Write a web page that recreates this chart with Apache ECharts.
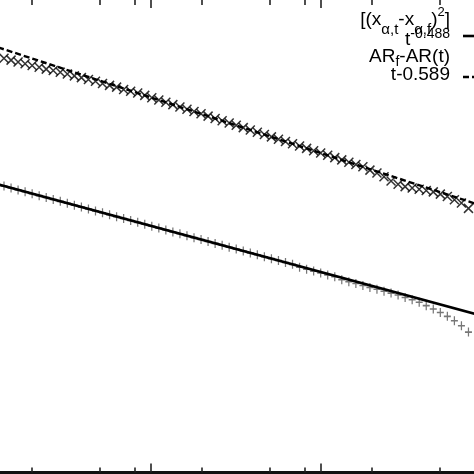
<!DOCTYPE html>
<html>
<head>
<meta charset="utf-8">
<script src="https://cdn.jsdelivr.net/npm/echarts@6/dist/echarts.min.js"></script>
<style>
html,body{margin:0;padding:0;background:#fff;}
#chart{width:474px;height:474px;}
</style>
</head>
<body>
<div id="chart"></div>
<script>
// time values (log-spaced samples)
const tValues = [13.66, 15.03, 16.53, 18.18, 20.0, 22.0, 24.2, 26.62, 29.28, 32.21,
  35.43, 38.97, 42.87, 47.16, 51.87, 57.06, 62.77, 69.04, 75.95, 83.54,
  91.9, 101.1, 111.2, 122.3, 134.5, 148.0, 162.8, 179.1, 197.0, 216.7,
  238.4, 262.2, 288.4, 317.3, 349.0, 383.9, 422.3, 464.5, 511.0, 562.1,
  618.3, 680.1, 748.1, 822.9, 905.2, 995.7, 1095, 1205, 1325, 1458,
  1604, 1764, 1940, 2134, 2348, 2583, 2841, 3125, 3438, 3782,
  4160, 4576, 5034, 5537, 6091, 6700, 7370];
// [(x_{a,t}-x_{a,f})^2]  (+ markers)
const msdValues = [0.01073, 0.01024, 0.009779, 0.009335, 0.008911, 0.008505, 0.008119, 0.007750, 0.007397, 0.007061,
  0.006740, 0.006434, 0.006142, 0.005862, 0.005596, 0.005342, 0.005099, 0.004867, 0.004646, 0.004435,
  0.004233, 0.004041, 0.003857, 0.003682, 0.003514, 0.003355, 0.003202, 0.003057, 0.002918, 0.002785,
  0.002658, 0.002538, 0.002422, 0.002312, 0.002207, 0.002107, 0.002011, 0.001920, 0.001832, 0.001749,
  0.001670, 0.001594, 0.001485, 0.001417, 0.001353, 0.001291, 0.001233, 0.001177, 0.001096, 0.001046,
  0.0009987, 0.0009533, 0.0009099, 0.0008686, 0.0008291, 0.0007914, 0.0007554, 0.0007123, 0.0006718, 0.0006335,
  0.0005830, 0.0005365, 0.0004938, 0.0004489, 0.0004032, 0.0003577, 0.0003060];
// AR_f - AR(t)  (x markers)
const arValues = [0.2415, 0.2311, 0.2212, 0.2117, 0.2026, 0.1939, 0.1855, 0.1797, 0.1720, 0.1646,
  0.1575, 0.1508, 0.1443, 0.1381, 0.1305, 0.1249, 0.1196, 0.1130, 0.1082, 0.1035,
  0.09786, 0.09252, 0.08747, 0.08269, 0.07817, 0.07390, 0.06987, 0.06606, 0.06245, 0.05904,
  0.05582, 0.05277, 0.04989, 0.04717, 0.04459, 0.04216, 0.03986, 0.03768, 0.03563, 0.03368,
  0.03184, 0.03010, 0.02846, 0.02691, 0.02544, 0.02405, 0.02274, 0.02149, 0.02032, 0.01921,
  0.01816, 0.01717, 0.01584, 0.01480, 0.01349, 0.01215, 0.01121, 0.01059, 0.01026, 0.009942,
  0.009630, 0.009330, 0.008820, 0.008339, 0.007694, 0.007098, 0.006238];
// power-law fits (endpoints)
const fitT = [10, 10000];
const fitMsd = [0.01252, 0.0004294];   // t^-0.488
const fitAr = [0.3613, 0.00618];      // t^-0.589
// axes
const xRange = [12.94, 7943];
const yRange = [1e-5, 1];
const majorTicks = [100, 1000];
const minorTicks = [20, 50, 80, 200, 500, 800, 2000, 5000];

const L = Math.log10;
const pairs = (xs, ys) => xs.map((x, i) => [L(x), L(ys[i])]);

const chart = echarts.init(document.getElementById('chart'), null, {renderer: 'canvas'});
const baseX = {
  type: 'value', min: L(xRange[0]), max: L(xRange[1]),
  axisLabel: {show: false}, splitLine: {show: false}, axisLine: {show: false}
};
function tickAxis(pos, vals, len, lineShow) {
  return Object.assign({}, baseX, {
    position: pos,
    axisLine: {show: lineShow, onZero: false, lineStyle: {color: '#111', width: 3}},
    axisTick: {show: true, inside: true, length: len, customValues: vals.map(L), lineStyle: {color: '#222', width: 1.6}}
  });
}
const font = '"Liberation Sans", Arial, sans-serif';
const richStyles = {
  m: {fontSize: 19, fontFamily: font, color: '#111'},
  sb: {fontSize: 15, fontFamily: font, color: '#111', verticalAlign: 'bottom', lineHeight: 26},
  sp: {fontSize: 13, fontFamily: font, color: '#111', verticalAlign: 'top', lineHeight: 13, padding: [4, 0, 0, 0]},
  sp2: {fontSize: 14, fontFamily: font, color: '#111', verticalAlign: 'top', lineHeight: 12}
};
function rich(over) {
  const r = {};
  for (const k in richStyles) r[k] = Object.assign({}, richStyles[k]);
  for (const k in over) Object.assign(r[k], over[k]);
  return r;
}

chart.setOption({
  animation: false,
  backgroundColor: '#fff',
  grid: {left: 0, right: 0, top: 0, bottom: 1.5, containLabel: false},
  xAxis: [
    tickAxis('bottom', minorTicks, 5, true),
    tickAxis('bottom', majorTicks, 9, false),
    tickAxis('top', minorTicks, 5, false),
    tickAxis('top', majorTicks, 8, false)
  ],
  yAxis: {type: 'value', min: L(yRange[0]), max: L(yRange[1]), show: false},
  series: [
    {
      type: 'scatter', name: 'msd', data: pairs(tValues, msdValues),
      symbol: 'path://M4,0L4,8M0,4L8,4', symbolSize: [7, 9],
      itemStyle: {color: 'none', borderColor: '#555', borderWidth: 1.4}, z: 2
    },
    {
      type: 'scatter', name: 'ar', data: pairs(tValues, arValues),
      symbol: 'path://M0,0L8,8M8,0L0,8', symbolSize: 9,
      itemStyle: {color: 'none', borderColor: '#000', borderWidth: 1.5}, z: 2
    },
    {
      type: 'line', name: 'fitMsd', data: pairs(fitT, fitMsd), showSymbol: false,
      lineStyle: {color: '#000', width: 2.6}, z: 3
    },
    {
      type: 'line', name: 'fitAr', data: pairs(fitT, fitAr), showSymbol: false,
      lineStyle: {color: '#000', width: 2.4, type: [6, 3]}, z: 3
    }
  ],
  graphic: [
    {type: 'text', x: 450, y: 2, z: 10, style: {
      text: '{m|[(x}{sb|α,t}{m|-x}{sb|α,f}{m|)}{sp|2}{m|]}', align: 'right', verticalAlign: 'top',
      rich: rich({m: {lineHeight: 35.5}})}},
    {type: 'text', x: 450, y: 27, z: 10, style: {
      text: '{m|t}{sp2|-0.488}', align: 'right', verticalAlign: 'top',
      rich: rich({m: {lineHeight: 26.5}})}},
    {type: 'text', x: 450, y: 44, z: 10, style: {
      text: '{m|AR}{sb|f}{m|-AR(t)}', align: 'right', verticalAlign: 'top',
      rich: rich({m: {lineHeight: 25.2}, sb: {fontSize: 14, lineHeight: 18}})}},
    {type: 'text', x: 450, y: 65.5, z: 10, style: {
      text: '{m|t-0.589}', align: 'right', verticalAlign: 'top',
      rich: rich({m: {lineHeight: 19}})}},
    {type: 'line', z: 10, shape: {x1: 463, y1: 36, x2: 490, y2: 36}, style: {stroke: '#000', lineWidth: 2.6}},
    {type: 'line', z: 10, shape: {x1: 463, y1: 77, x2: 490, y2: 77}, style: {stroke: '#000', lineWidth: 2.4, lineDash: [6, 3]}}
  ]
});
</script>
</body>
</html>
